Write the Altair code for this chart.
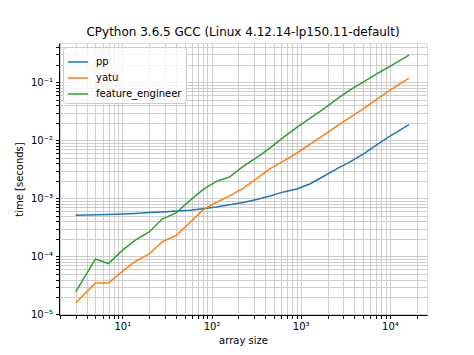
import altair as alt
import pandas as pd

sizes = [3, 5, 7, 10, 14, 20, 28, 40, 57, 80, 113, 160, 226, 320, 453, 640,
         905, 1280, 1810, 2560, 3620, 5120, 7240, 10240, 16384]
pp = [5.13e-4, 5.19e-4, 5.25e-4, 5.37e-4, 5.50e-4, 5.69e-4, 5.82e-4, 6.03e-4,
      6.24e-4, 6.61e-4, 7.08e-4, 7.76e-4, 8.51e-4, 9.55e-4, 1.10e-3, 1.29e-3,
      1.45e-3, 1.78e-3, 2.40e-3, 3.24e-3, 4.27e-3, 5.89e-3, 8.51e-3, 1.20e-2, 1.86e-2]
yatu = [1.58e-5, 3.50e-5, 3.50e-5, 5.50e-5, 8.22e-5, 1.10e-4, 1.78e-4, 2.29e-4,
        3.80e-4, 6.31e-4, 8.50e-4, 1.10e-3, 1.48e-3, 2.19e-3, 3.24e-3, 4.37e-3,
        6.03e-3, 8.61e-3, 1.23e-2, 1.76e-2, 2.51e-2, 3.55e-2, 5.13e-2, 7.41e-2, 0.117]
feature_engineer = [2.45e-5, 9.04e-5, 7.52e-5, 1.27e-4, 1.91e-4, 2.63e-4, 4.40e-4, 5.62e-4,
                    9.1e-4, 1.41e-3, 1.95e-3, 2.34e-3, 3.55e-3, 5.01e-3, 7.41e-3, 1.12e-2,
                    1.66e-2, 2.40e-2, 3.47e-2, 5.13e-2, 7.41e-2, 0.102, 0.141, 0.191, 0.292]
series_names = ["pp", "yatu", "feature_engineer"]
series_colors = ["#1f77b4", "#ff7f0e", "#2ca02c"]

title_text = "CPython 3.6.5 GCC (Linux 4.12.14-lp150.11-default)"

x_domain = [1.95, 26060]
y_domain = [0.98e-5, 0.472]

rows = []
for name, vals in zip(series_names, [pp, yatu, feature_engineer]):
    for s, v in zip(sizes, vals):
        rows.append({"size": s, "time": v, "series": name})
df = pd.DataFrame(rows)

def log_ticks(lo, hi, e0, e1):
    out = []
    for e in range(e0, e1 + 1):
        for k in range(1, 10):
            v = k * 10.0 ** e
            if lo <= v <= hi:
                out.append(v)
    return out

x_ticks = log_ticks(x_domain[0], x_domain[1], 0, 5)
y_ticks = log_ticks(y_domain[0] * 1.02, y_domain[1], -6, 0)

label_expr = (
    "abs(log(datum.value)/LN10 - round(log(datum.value)/LN10)) < 0.01 ? "
    "'10' + replace(replace(replace(replace(replace(replace(replace("
    "'' + round(log(datum.value)/LN10), '-', '⁻'), '0', '⁰'), '1', '¹'), '2', '²'), "
    "'3', '³'), '4', '⁴'), '5', '⁵') : ''"
)

FONT = "DejaVu Sans"

axis_common = dict(
    labelExpr=label_expr,
    labelOverlap=False,
    labelFont=FONT,
    labelFontSize=10,
    labelColor="black",
    titleFont=FONT,
    titleFontSize=10,
    titleFontWeight="normal",
    titleColor="black",
    grid=True,
    gridColor="#c8c8c8",
    gridWidth=0.9,
    tickColor="black",
    tickSize=3.5,
    domainColor="black",
    labelPadding=3,
)

chart = alt.Chart(df).mark_line(strokeWidth=1.5).encode(
    x=alt.X("size:Q",
            scale=alt.Scale(type="log", domain=x_domain, nice=False),
            axis=alt.Axis(title="array size", values=x_ticks, titlePadding=4, **axis_common)),
    y=alt.Y("time:Q",
            scale=alt.Scale(type="log", domain=y_domain, nice=False),
            axis=alt.Axis(title="time [seconds]", values=y_ticks, titlePadding=6, **axis_common)),
    color=alt.Color("series:N",
                    scale=alt.Scale(domain=series_names, range=series_colors),
                    sort=series_names,
                    legend=alt.Legend(title=None, orient="top-left", offset=4,
                                      symbolType="stroke", symbolSize=420,
                                      symbolStrokeWidth=1.5,
                                      labelFont=FONT, labelFontSize=10,
                                      labelColor="black", labelOffset=7,
                                      padding=4, rowPadding=-10,
                                      fillColor="rgba(255,255,255,0.8)",
                                      strokeColor="#cccccc", cornerRadius=3)),
    order="size:Q",
).properties(
    width=368,
    height=272,
    title=alt.TitleParams(title_text, font=FONT, fontSize=12, fontWeight="normal",
                          color="black", anchor="middle", offset=3),
    autosize=alt.AutoSizeParams(type="none"),
    padding={"left": 51, "top": 35, "right": 39, "bottom": 32},
).configure_view(
    stroke="black", strokeWidth=1
).configure(background="white")

chart.save("out.html", embed_options={"renderer": "svg", "actions": False})
